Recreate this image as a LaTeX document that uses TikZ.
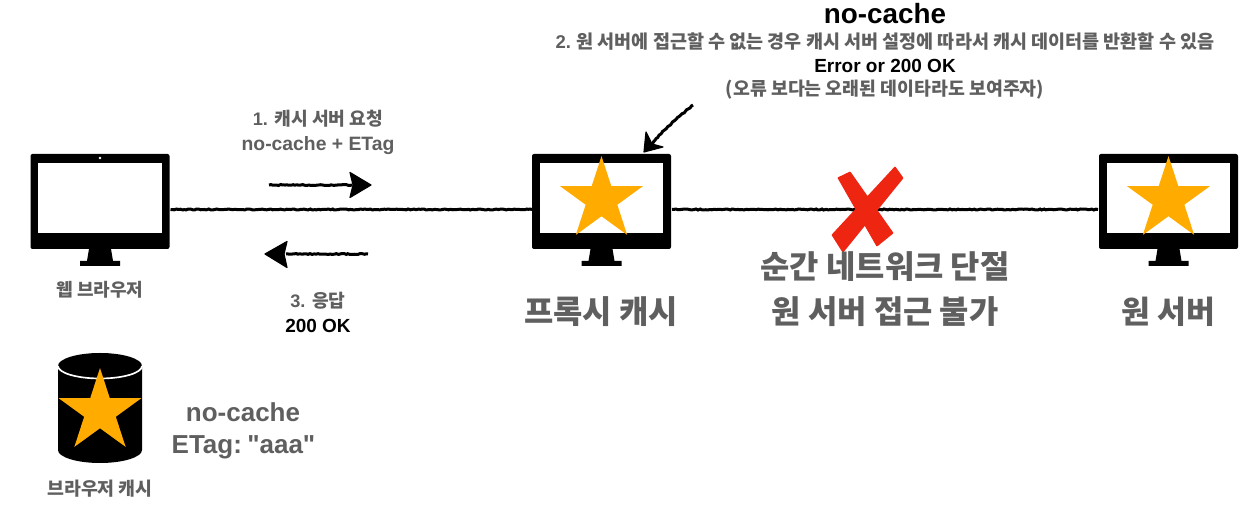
\documentclass[tikz,border=0pt]{standalone}
\usepackage{fontspec}
\setmainfont{Liberation Sans}
\newfontfamily\kr{Noto Sans CJK KR}
\newfontfamily\ltn{Liberation Sans}
\usetikzlibrary{shapes.geometric,arrows.meta,decorations.pathmorphing,calc}
\definecolor{txtgray}{HTML}{5F5F5F}
\definecolor{staror}{HTML}{FFAB00}
\definecolor{xred}{HTML}{EE2511}
\tikzset{
  x=0.6pt,y=-0.6pt,
  txt/.style={text=txtgray,inner sep=0pt,outer sep=0pt},
  blk/.style={text=black,inner sep=0pt,outer sep=0pt},
  body/.style={fill=black,rounded corners=1.2pt,minimum width=83.4pt,minimum height=57pt,inner sep=0pt,outer sep=0pt},
  screen/.style={fill=white,minimum width=74pt,minimum height=42pt,inner sep=0pt,outer sep=0pt},
  starshape/.style={star,star points=5,star point ratio=2.618,fill=staror,minimum size=52.3pt,inner sep=0pt,outer sep=0pt},
  rough/.style={draw=black,line width=1.8pt,decorate,decoration={random steps,segment length=1.2pt,amplitude=0.3pt}},
  head/.style={fill=black,draw=black,line width=0.7pt,line join=round},
  xstroke/.style={fill=xred,draw=xred,line width=1pt,line join=round},
}
\newcommand{\monitor}[2]{%
  \node[body] (#1) at (#2,201.5) {};
  \node[screen] (#1s) at (#2,198) {};
  \fill ($(#2,249)+(-11,0)$) -- ($(#2,249)+(11,0)$) -- ($(#2,249)+(13,12)$) -- ($(#2,249)+(20,12)$) -- ($(#2,249)+(20,17)$) -- ($(#2,249)+(-20,17)$) -- ($(#2,249)+(-20,12)$) -- ($(#2,249)+(-13,12)$) -- cycle;
}
\newcommand{\fs}[1]{\bfseries\fontsize{#1pt}{#1pt}\selectfont}
\begin{document}
\begin{tikzpicture}
\useasboundingbox (0,0) rectangle (1250,517);
\fill[white] (0,0) rectangle (1250,517);
% monitors
\monitor{browser}{100}
\monitor{proxy}{601.5}
\monitor{origin}{1168.5}
\node[circle,fill=white,minimum size=1.6pt,inner sep=0pt] (cam) at (100,158) {};
\node[starshape] (proxystar) at (601.5,199.6) {};
\node[starshape] (originstar) at (1168.5,199.6) {};
% connectors
\draw[rough] (browser.east) ++(1,8) -- ($(proxy.west)+(0,8)$);
\draw[rough] (proxy.east) ++(1,8) -- ($(origin.west)+(-1,8)$);
% failure mark
\fill[xstroke] (838.5,178) -- (850,172.5) -- (892.5,233) -- (877,245.5) -- cycle;
\fill[xstroke] (895,167.5) -- (902.5,178) -- (843,251.5) -- (832.5,235) -- cycle;
% arrows
\coordinate (r1) at (269,185);
\coordinate (r2) at (352,185);
\coordinate (l1) at (368,254);
\coordinate (l2) at (286,254);
\coordinate (p1) at (693,105);
\coordinate (p2) at (651,145);
\draw[rough] (r1) -- (r2);
\fill[head] (350,172.5) -- (371,185) -- (350,197.5) -- (353,185) -- cycle;
\draw[rough] (l1) -- (l2);
\fill[head] (287,241.5) -- (265,254) -- (287,267.5) -- (284,254) -- cycle;
\draw[rough] (p1) .. controls (675,120) and (660,133) .. (p2);
\fill[head] (646,132) -- (644,152) -- (663,147) -- (652,144) -- cycle;
% cache
\fill (58,366) arc[start angle=180,end angle=360,x radius=42,y radius=13] -- (142,450) arc[start angle=0,end angle=180,x radius=42,y radius=13] -- cycle;
\draw[white,line width=1pt] (58,366) arc[start angle=180,end angle=0,x radius=42,y radius=12.5];
\node[starshape] (cachestar) at (100,411.6) {};
% text
\node[blk,font=\fs{16.7}] (t0) at (885,14) {no-cache};
\node[txt,font=\fs{11.1}] (t1) at (885,41.5) {2.\hspace{-0.8pt} {\kr 원 서버에 접근할 수 없는 경우 캐시 서버 설정에 따라서 캐시 데이터를 반환할 수 있음}};
\node[blk,font=\fs{11.4}] (t2) at (885,66) {Error or 200 OK};
\node[txt,font=\fs{11}] (t3) at (885,89.5) {\kr (오류 보다는 오래된 데이타라도 보여주자)};
\node[txt,font=\fs{10.9}] (t4) at (318,119) {1. {\kr 캐시 서버 요청}};
\node[txt,font=\fs{11.6}] (t5) at (318,146) {no-cache + ETag};
\node[txt,font=\fs{10.8}] (t6) at (100,290) {\kr 웹 브라우저};
\node[txt,font=\fs{10.9}] (t7) at (318,301) {3. {\kr 응답}};
\node[blk,font=\fs{11.4}] (t8) at (318,326) {200 OK};
\node[txt,font=\fs{19.1}] (t9) at (601,312) {\kr 프록시 캐시};
\node[txt,font=\fs{19.1}] (t10) at (885,267) {\kr 순간 네트워크 단절};
\node[txt,font=\fs{19.1}] (t11) at (885,312) {\kr 원 서버 접근 불가};
\node[txt,font=\fs{18.8}] (t12) at (1168,312) {\kr 원 서버};
\node[txt,font=\fs{11}] (t13) at (100,488.5) {\kr 브라우저 캐시};
\node[txt,font=\fs{15.6}] (t14) at (243,412) {no-cache};
\node[txt,font=\fs{15.6}] (t15) at (243.5,447) {\ltn ETag:\hspace{-2.6pt} "aaa"};
\end{tikzpicture}
\end{document}
